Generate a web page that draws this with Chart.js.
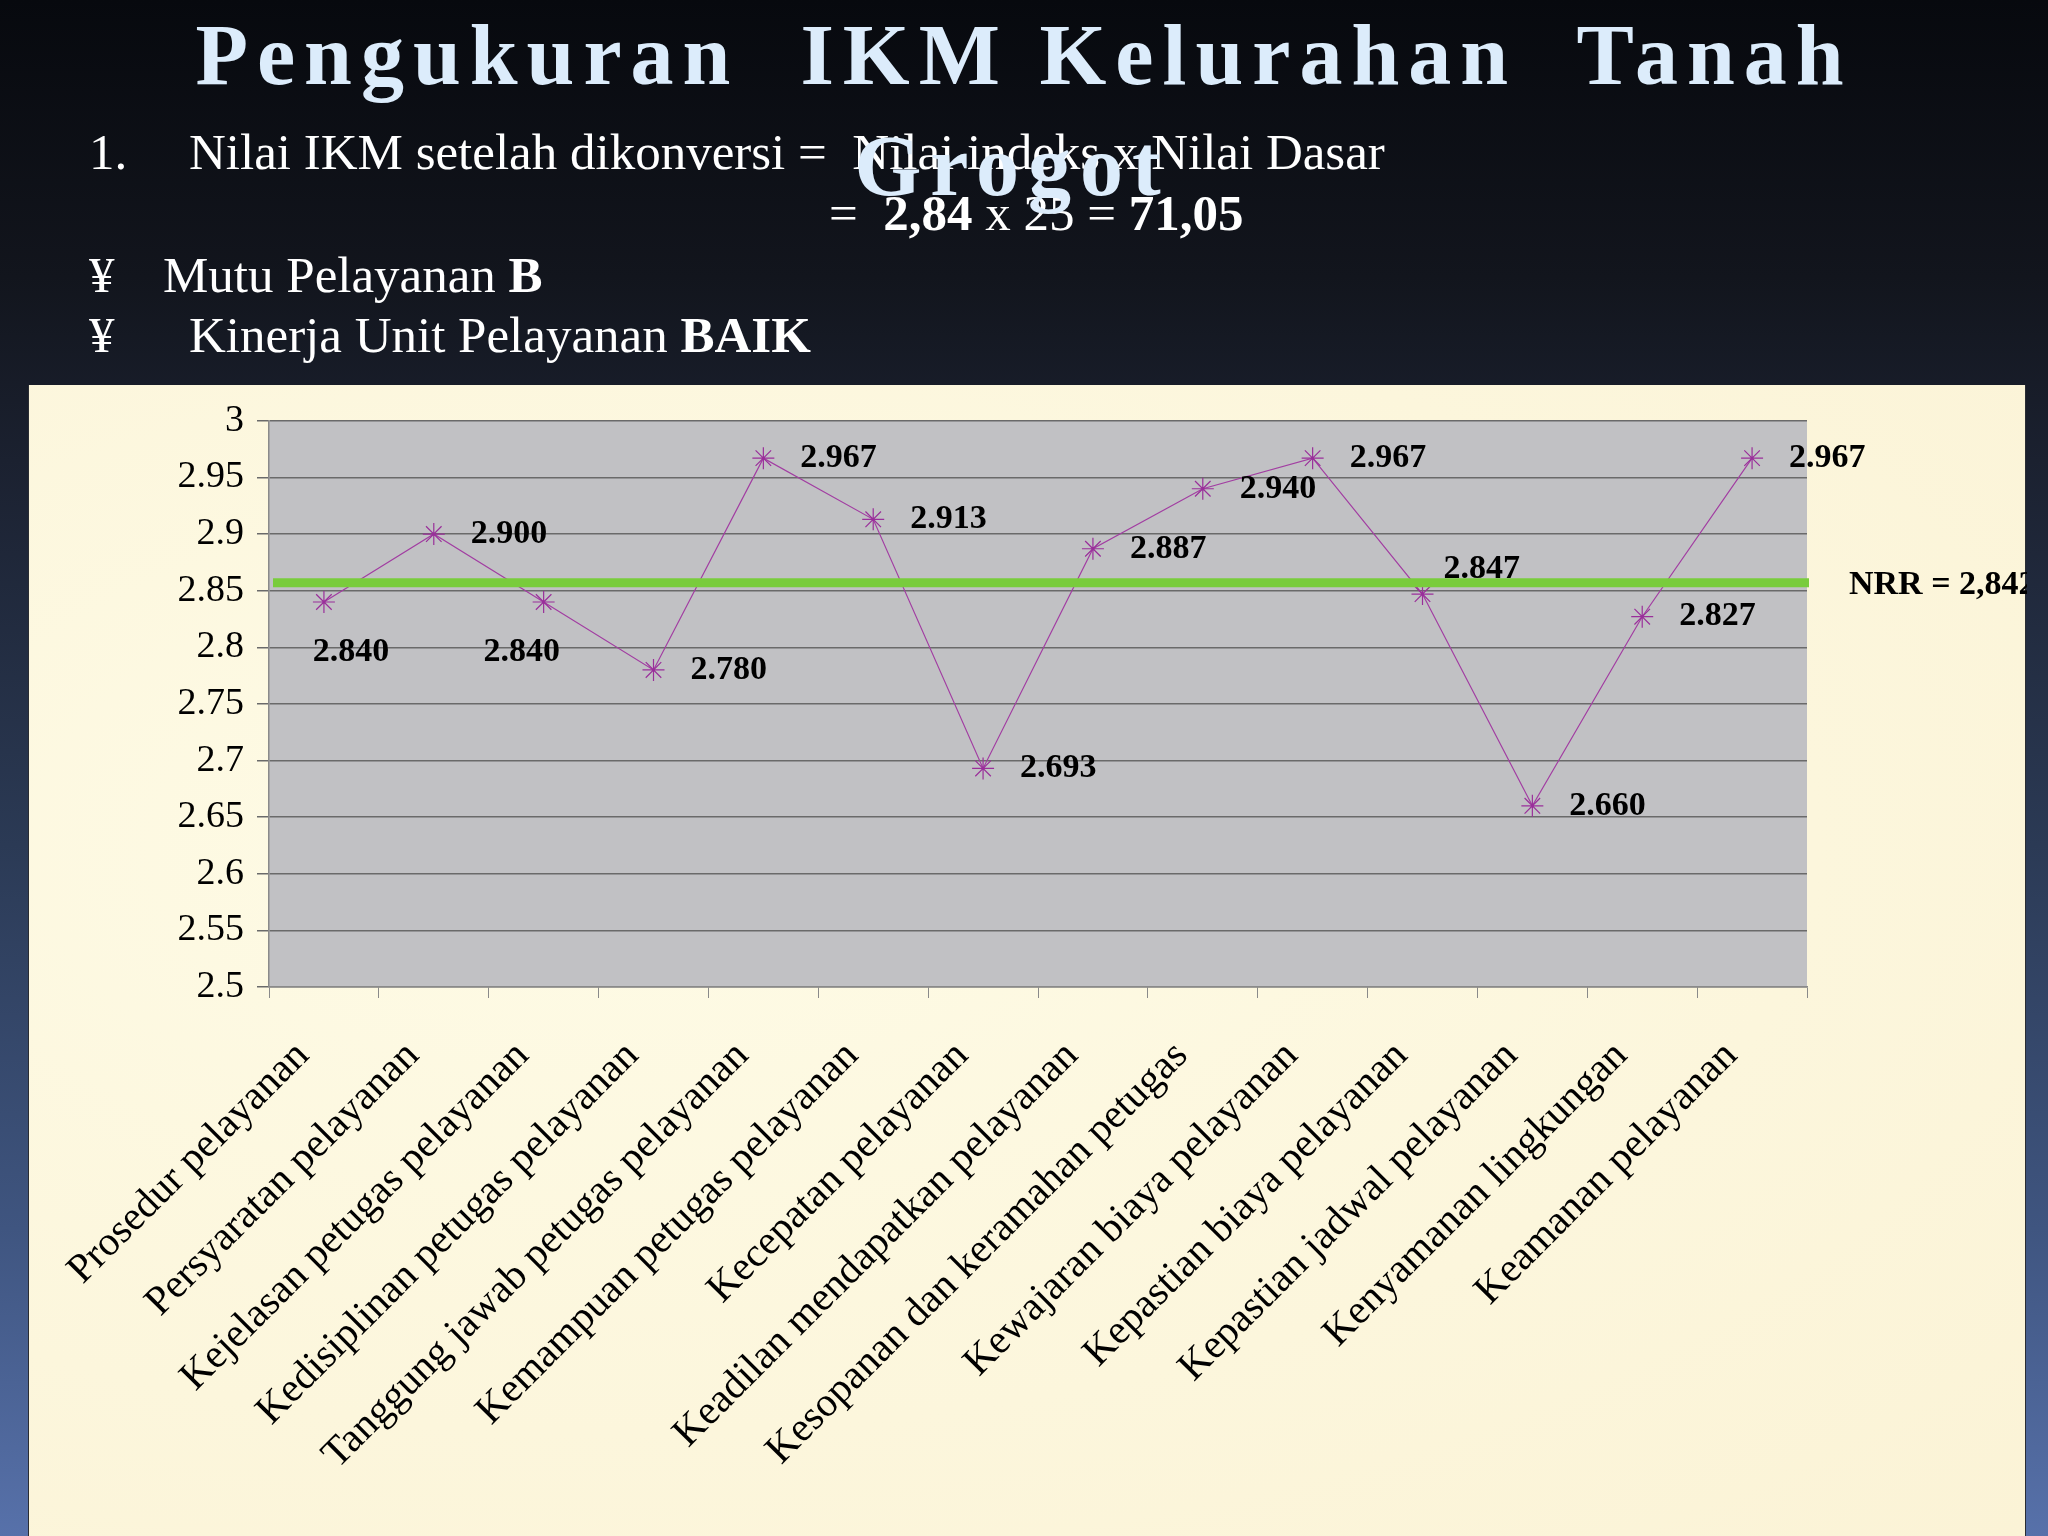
<!DOCTYPE html>
<html>
<head>
<meta charset="utf-8">
<script src="https://cdn.jsdelivr.net/npm/chart.js@4.4.1/dist/chart.umd.min.js"></script>
<style>
  html, body { margin: 0; padding: 0; }
  body {
    width: 2048px; height: 1536px; position: relative; overflow: hidden;
    background: linear-gradient(to bottom, #07090e 0%, #12151d 18%, #1b2130 30%, #2b3a55 55%, #3f5580 80%, #5771aa 100%);
    font-family: "Liberation Serif", "Times New Roman", serif;
  }
  .txt { position: absolute; color: #ffffff; font-size: 51px; line-height: 1; white-space: nowrap; }
  .title { position: absolute; left: 0; width: 2048px; text-align: center; color: #dcecfb;
    font-weight: bold; font-size: 86px; line-height: 1; letter-spacing: 9px; white-space: nowrap; z-index: 5; }
  #panel { position: absolute; left: 28px; top: 385px; width: 1998px; height: 1151px;
    background: radial-gradient(ellipse at 30% 40%, #fefbe6 0%, #fcf6dc 60%, #fbf3d6 100%);
    border-left: 1px solid #2a2d33; border-right: 1px solid #2a2d33; box-sizing: border-box; }
  #wrap { position: absolute; left: 29px; top: 385px; width: 1998px; height: 1151px; }
</style>
</head>
<body>
<div class="txt" style="left:89px; top:127px;">1.</div>
<div class="txt" style="left:189px; top:127px;">Nilai IKM setelah dikonversi =&nbsp; Nilai indeks x Nilai Dasar</div>
<div class="txt" style="left:829px; top:188px;">=&nbsp; <b>2,84</b> x 25 = <b>71,05</b></div>
<div class="txt" style="left:89px; top:250px;">¥</div>
<div class="txt" style="left:163px; top:250px;">Mutu Pelayanan <b>B</b></div>
<div class="txt" style="left:89px; top:310px;">¥</div>
<div class="txt" style="left:189px; top:310px;">Kinerja Unit Pelayanan <b>BAIK</b></div>
<div class="title" style="top:12px;">Pengukuran&nbsp; IKM Kelurahan&nbsp; Tanah</div>
<div class="title" style="top:123px; left:-12px;">Grogot</div>
<div id="panel"></div>
<div id="wrap"><canvas id="c" width="1998" height="1151"></canvas></div>
<script>
const categories = [
  "Prosedur pelayanan",
  "Persyaratan pelayanan",
  "Kejelasan petugas pelayanan",
  "Kedisiplinan petugas pelayanan",
  "Tanggung jawab petugas pelayanan",
  "Kemampuan petugas pelayanan",
  "Kecepatan pelayanan",
  "Keadilan mendapatkan pelayanan",
  "Kesopanan dan keramahan petugas",
  "Kewajaran biaya pelayanan",
  "Kepastian biaya pelayanan",
  "Kepastian jadwal pelayanan",
  "Kenyamanan lingkungan",
  "Keamanan pelayanan"
];
const ikmValues = [2.840, 2.900, 2.840, 2.780, 2.967, 2.913, 2.693, 2.887, 2.940, 2.967, 2.847, 2.660, 2.827, 2.967];
const valueLabels = ["2.840", "2.900", "2.840", "2.780", "2.967", "2.913", "2.693", "2.887", "2.940", "2.967", "2.847", "2.660", "2.827", "2.967"];
const nrrLevel = 2.857;
const nrrText = "NRR = 2,842";
const yMin = 2.5, yMax = 3, yStep = 0.05;

const SERIF = '"Liberation Serif", "Times New Roman", serif';
// label placement tweaks (dx, dy, align) relative to the point
const labelPlacement = {
  0: { dx: 27, dy: 50, align: 'center' },
  2: { dx: -22, dy: 50, align: 'center' },
  10: { dx: 21, dy: -25, align: 'left' }
};

const plotBg = {
  id: 'plotBg',
  beforeDraw(chart) {
    const { ctx, chartArea: a } = chart;
    ctx.save();
    ctx.fillStyle = '#c1c1c4';
    ctx.fillRect(a.left, a.top, a.right - a.left, a.bottom - a.top);
    ctx.restore();
  }
};

const overlay = {
  id: 'overlay',
  afterDatasetsDraw(chart) {
    const { ctx, chartArea: a, scales } = chart;
    const meta = chart.getDatasetMeta(0);
    ctx.save();
    ctx.fillStyle = '#000';
    ctx.font = 'bold 34px ' + SERIF;
    ctx.textBaseline = 'middle';
    meta.data.forEach((pt, i) => {
      const p = labelPlacement[i] || { dx: 37, dy: 0, align: 'left' };
      ctx.textAlign = p.align;
      ctx.fillText(valueLabels[i], pt.x + p.dx, pt.y + p.dy);
    });
    const y = scales.y.getPixelForValue(nrrLevel);
    ctx.strokeStyle = '#79cc3c';
    ctx.lineWidth = 9;
    ctx.beginPath();
    ctx.moveTo(a.left + 4, y);
    ctx.lineTo(a.right + 2, y);
    ctx.stroke();
    ctx.textAlign = 'left';
    ctx.fillText(nrrText, a.right + 42, y + 2);
    ctx.restore();
  }
};

new Chart(document.getElementById('c'), {
  type: 'line',
  data: {
    labels: categories,
    datasets: [{
      data: ikmValues,
      borderColor: '#a23ea2',
      borderWidth: 1.2,
      pointStyle: 'star',
      pointRadius: 11,
      pointBorderColor: '#9a2f9a',
      pointBorderWidth: 1.2,
      pointBackgroundColor: '#9a2f9a',
      tension: 0
    }]
  },
  options: {
    responsive: false,
    animation: false,
    devicePixelRatio: 1,
    layout: { padding: { left: 0, top: 33, right: 220, bottom: 0 } },
    plugins: { legend: { display: false }, tooltip: { enabled: false } },
    scales: {
      x: {
        offset: true,
        grid: { offset: true, drawOnChartArea: false, drawTicks: true, tickLength: 11, color: '#8a8a8a' },
        border: { display: true, color: '#8a8a8a', width: 1.5 },
        ticks: { autoSkip: false, minRotation: 45, maxRotation: 45, padding: 34, labelOffset: -21, color: '#000',
          font: { family: SERIF, size: 41 } },
        afterFit(scale) { scale.height = 549; }
      },
      y: {
        min: yMin, max: yMax,
        grid: { color: '#6a6a6a', lineWidth: 1.5, drawTicks: true, tickLength: 12 },
        border: { display: true, color: '#8a8a8a', width: 1.5 },
        ticks: { stepSize: yStep, padding: 13, color: '#000', font: { family: SERIF, size: 38 },
          callback: v => String(Math.round(v * 100) / 100) },
        afterFit(scale) { scale.width = 240; }
      }
    }
  },
  plugins: [plotBg, overlay]
});
</script>
</body>
</html>
